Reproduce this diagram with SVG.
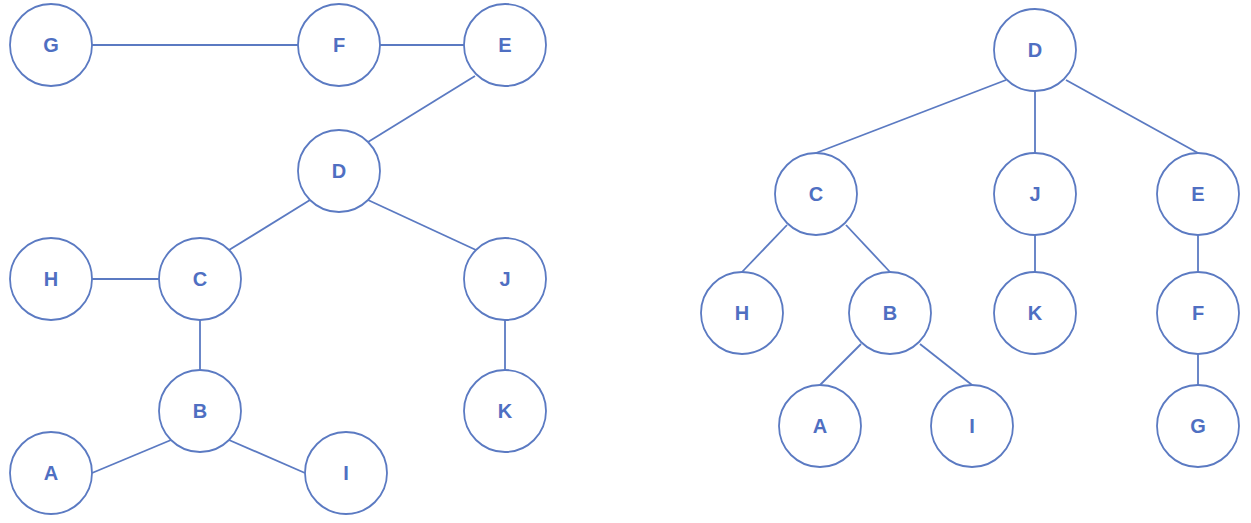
<svg xmlns="http://www.w3.org/2000/svg" width="1251" height="523" viewBox="0 0 1251 523">
<style>
.n circle{fill:#ffffff;stroke:#5b7ac2;stroke-width:1.8}
.n text{font-family:"Liberation Sans",Arial,sans-serif;font-weight:bold;font-size:20px;fill:#4f6fc2;text-anchor:middle;dominant-baseline:central}
#edges line{stroke:#5b7ac2;stroke-width:1.8}
</style>
<rect width="1251" height="523" fill="#ffffff"/>
<g id="edges">
<line x1="92" y1="45" x2="298" y2="45"/>
<line x1="380" y1="45" x2="464" y2="45"/>
<line x1="475" y1="76" x2="368" y2="142"/>
<line x1="310" y1="200" x2="229" y2="250"/>
<line x1="368" y1="200" x2="476" y2="250"/>
<line x1="92" y1="279" x2="159" y2="279"/>
<line x1="200" y1="320" x2="200" y2="370"/>
<line x1="505" y1="320" x2="505" y2="370"/>
<line x1="171" y1="440" x2="92" y2="473"/>
<line x1="229" y1="440" x2="305" y2="473"/>
<line x1="1006" y1="80" x2="816" y2="153"/>
<line x1="1035" y1="91" x2="1035" y2="153"/>
<line x1="1066" y1="80" x2="1198" y2="153"/>
<line x1="787" y1="225" x2="742" y2="272"/>
<line x1="846" y1="225" x2="890" y2="272"/>
<line x1="861" y1="344" x2="820" y2="385"/>
<line x1="920" y1="344" x2="972" y2="385"/>
<line x1="1035" y1="235" x2="1035" y2="272"/>
<line x1="1198" y1="235" x2="1198" y2="272"/>
<line x1="1198" y1="354" x2="1198" y2="385"/>
</g>
<g id="L-G" class="n"><circle cx="51" cy="45" r="41"/><text x="51" y="45">G</text></g>
<g id="L-F" class="n"><circle cx="339" cy="45" r="41"/><text x="339" y="45">F</text></g>
<g id="L-E" class="n"><circle cx="505" cy="45" r="41"/><text x="505" y="45">E</text></g>
<g id="L-D" class="n"><circle cx="339" cy="171" r="41"/><text x="339" y="171">D</text></g>
<g id="L-H" class="n"><circle cx="51" cy="279" r="41"/><text x="51" y="279">H</text></g>
<g id="L-C" class="n"><circle cx="200" cy="279" r="41"/><text x="200" y="279">C</text></g>
<g id="L-J" class="n"><circle cx="505" cy="279" r="41"/><text x="505" y="279">J</text></g>
<g id="L-B" class="n"><circle cx="200" cy="411" r="41"/><text x="200" y="411">B</text></g>
<g id="L-K" class="n"><circle cx="505" cy="411" r="41"/><text x="505" y="411">K</text></g>
<g id="L-A" class="n"><circle cx="51" cy="473" r="41"/><text x="51" y="473">A</text></g>
<g id="L-I" class="n"><circle cx="346" cy="473" r="41"/><text x="346" y="473">I</text></g>
<g id="R-D" class="n"><circle cx="1035" cy="50" r="41"/><text x="1035" y="50">D</text></g>
<g id="R-C" class="n"><circle cx="816" cy="194" r="41"/><text x="816" y="194">C</text></g>
<g id="R-J" class="n"><circle cx="1035" cy="194" r="41"/><text x="1035" y="194">J</text></g>
<g id="R-E" class="n"><circle cx="1198" cy="194" r="41"/><text x="1198" y="194">E</text></g>
<g id="R-H" class="n"><circle cx="742" cy="313" r="41"/><text x="742" y="313">H</text></g>
<g id="R-B" class="n"><circle cx="890" cy="313" r="41"/><text x="890" y="313">B</text></g>
<g id="R-K" class="n"><circle cx="1035" cy="313" r="41"/><text x="1035" y="313">K</text></g>
<g id="R-F" class="n"><circle cx="1198" cy="313" r="41"/><text x="1198" y="313">F</text></g>
<g id="R-A" class="n"><circle cx="820" cy="426" r="41"/><text x="820" y="426">A</text></g>
<g id="R-I" class="n"><circle cx="972" cy="426" r="41"/><text x="972" y="426">I</text></g>
<g id="R-G" class="n"><circle cx="1198" cy="426" r="41"/><text x="1198" y="426">G</text></g>
</svg>
